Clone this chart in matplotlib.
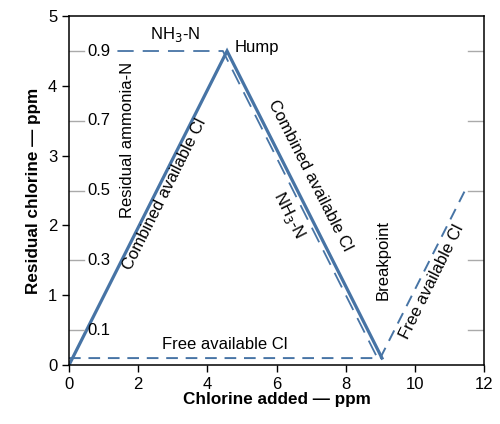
import matplotlib
matplotlib.use("Agg")
import matplotlib.pyplot as plt
import matplotlib.transforms as mtransforms

# data
combined_x = [0, 4.57, 9.05]
combined_y = [0, 4.5, 0.1]
nh3_x = [1.4, 4.45, 8.92]
nh3_y = [4.5, 4.5, 0.1]
free_x = [0, 9.0, 11.5]
free_y = [0.1, 0.1, 2.55]
ammonia_ticks = [0.1, 0.3, 0.5, 0.7, 0.9]
ammonia_scale = 5.0  # ammonia-N value -> residual chlorine axis

plt.rcParams['font.family'] = ['Liberation Sans', 'DejaVu Sans']
blue = '#4774a5'

fig = plt.figure(figsize=(5, 4.24), dpi=100)
ax = fig.add_axes([0.138, 0.139, 0.83, 0.823])

ax.plot(combined_x, combined_y, color=blue, lw=2.3, solid_joinstyle='miter')
ax.plot(nh3_x, nh3_y, color=blue, lw=1.3, dashes=(9, 5))
ax.plot(free_x, free_y, color=blue, lw=1.4, dashes=(6, 4))

# secondary ammonia scale drawn inside the axes
trans = mtransforms.blended_transform_factory(ax.transAxes, ax.transData)
for v in ammonia_ticks:
    y = v * ammonia_scale
    ax.plot([0, 0.035], [y, y], color='#aaaaaa', lw=1, transform=trans)
    ax.plot([0.962, 1.0], [y, y], color='#aaaaaa', lw=1, transform=trans)
    ax.text(0.045, y, f"{v:.1f}", transform=trans, fontsize=12,
            va='center', ha='left')

ax.set_xlim(0, 12)
ax.set_ylim(0, 5)
ax.set_xticks(range(0, 13, 2))
ax.set_yticks(range(0, 6))
ax.tick_params(labelsize=12, length=5, width=1, right=False, top=False)
for s in ax.spines.values():
    s.set_linewidth(1.1)

ax.set_xlabel("Chlorine added — ppm", fontsize=12.3, fontweight='bold',
              labelpad=0)
ax.set_ylabel("Residual chlorine — ppm", fontsize=12.3, fontweight='bold',
              labelpad=5)

fs = 12
ax.text(3.07, 4.73, "NH$_3$-N", fontsize=fs, ha='center', va='center')
ax.text(4.8, 4.55, "Hump", fontsize=fs, ha='left', va='center')
ax.text(1.68, 3.22, "Residual ammonia-N", fontsize=fs, rotation=90,
        ha='center', va='center')
ax.text(2.75, 2.45, "Combined available Cl", fontsize=fs, rotation=63.3,
        ha='center', va='center', rotation_mode='anchor')
ax.text(6.98, 2.72, "Combined available Cl", fontsize=fs, rotation=-63,
        ha='center', va='center', rotation_mode='anchor')
ax.text(6.36, 2.15, "NH$_3$-N", fontsize=fs, rotation=-63,
        ha='center', va='center', rotation_mode='anchor')
ax.text(9.08, 1.5, "Breakpoint", fontsize=fs, rotation=90,
        ha='center', va='center')
ax.text(10.5, 1.2, "Free available Cl", fontsize=fs, rotation=63.6,
        ha='center', va='center', rotation_mode='anchor')
ax.text(4.5, 0.3, "Free available Cl", fontsize=fs, ha='center', va='center')

fig.savefig("out.png", dpi=100)
